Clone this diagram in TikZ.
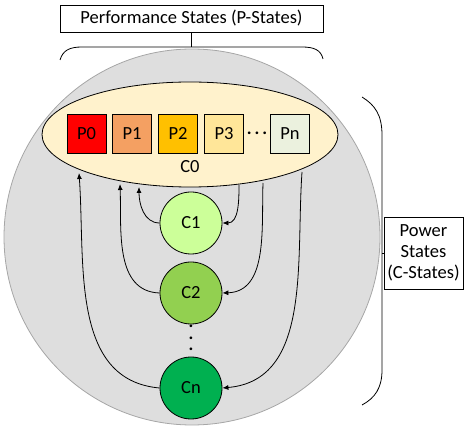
\documentclass[tikz,border=0pt]{standalone}
\usepackage{fontspec}
\setmainfont{Carlito}
\usepackage{tikz}
\usetikzlibrary{shapes.geometric, arrows.meta}

\definecolor{pzero}{HTML}{FF0000}
\definecolor{pone}{HTML}{F4A062}
\definecolor{ptwo}{HTML}{FFC000}
\definecolor{pthree}{HTML}{FFE699}
\definecolor{pen}{HTML}{EBF1DE}
\definecolor{czerofill}{HTML}{FFF2CC}
\definecolor{powerfill}{HTML}{DEDEDE}
\definecolor{powerline}{HTML}{A6A6A6}
\definecolor{cone}{HTML}{CCFF99}
\definecolor{ctwo}{HTML}{92D050}
\definecolor{cen}{HTML}{00B050}

\begin{document}
\begin{tikzpicture}[x=1pt, y=-1pt, >={Latex[length=6pt, width=5pt]}, line width=0.8pt, font=\fontsize{18.5}{21}\selectfont]
    \tikzstyle{pbox} = [rectangle, draw, minimum size=39pt, inner sep=0pt]
    \tikzstyle{cnode} = [circle, draw, minimum size=62pt, inner sep=0pt]
    \tikzstyle{tagbox} = [rectangle, draw, align=center, inner sep=2pt]
    \useasboundingbox (0,0) rectangle (474,427);
    % power states and C0
    \node[circle, draw=powerline, fill=powerfill, minimum size=376pt] (power) at (192,237) {};
    \node[ellipse, draw, fill=czerofill, minimum width=296pt, minimum height=105pt] (czero) at (190,134.5) {};
    \node (czerotxt) at (190,167) {C0};
    \foreach \n/\x/\c in {0/86.5/pzero, 1/132/pone, 2/178/ptwo, 3/224/pthree, n/290/pen} {
        \node[pbox, fill=\c] (p\n) at (\x,133.5) {P\n};
    }
    \node[inner sep=0pt, font=\bfseries\fontsize{18}{18}\selectfont] (pdots) at (257,133) {.\,.\,.};
    % C-states
    \foreach \n/\y/\c in {1/223/cone, 2/293/ctwo, n/388/cen} {
        \node[cnode, fill=\c] (c\n) at (191,\y) {C\n};
    }
    \node[inner sep=0pt, align=center, font=\bfseries\fontsize{18}{11.5}\selectfont] (cdots) at (191,338) {.\\.\\.};
    % transitions
    \coordinate (up1) at (139,187);
    \coordinate (up2) at (120,184);
    \coordinate (upn) at (79,173);
    \coordinate (dn1) at (239,185);
    \coordinate (dn2) at (263,183);
    \coordinate (dnn) at (302,172);
    \draw[->] (c1.west) to[out=180, in=-90] (up1);
    \draw[->] (c2.west) to[out=178, in=-88] (up2);
    \draw[->] (cn.west) to[out=175, in=-86] (upn);
    \draw[->] (dn1) to[out=-90, in=0] (c1.east);
    \draw[->] (dn2) to[out=-92, in=2] (c2.east);
    \draw[->] (dnn) to[out=-94, in=5] (cn.east);
    % braces and labels
    \node[tagbox, minimum width=263pt, minimum height=27pt] (pstates) at (191.5,18.5) {Performance States (P-States)};
    \node[tagbox, minimum width=79pt, minimum height=72pt] (cstates) at (423.5,253) {Power\\States\\(C-States)};
    \draw (60,60) .. controls (63,50) and (70,47) .. (82,47) -- (302,47) .. controls (314,47) and (321,50) .. (323,59);
    \draw (362,97) .. controls (375,105) and (382,115) .. (382,135) -- (382,370) .. controls (382,388) and (375,398) .. (362,405);
    \coordinate (ptip) at (191.5,47);
    \coordinate (ctip) at (382,253);
    \draw (pstates) -- (ptip);
    \draw (cstates) -- (ctip);
\end{tikzpicture}
\end{document}
